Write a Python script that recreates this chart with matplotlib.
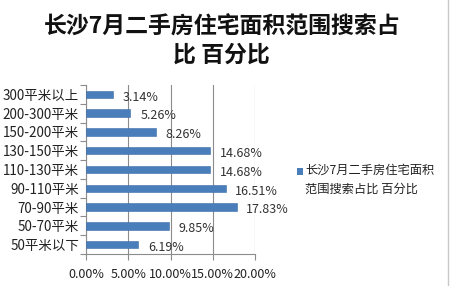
import matplotlib
matplotlib.use("Agg")
import matplotlib.pyplot as plt
from matplotlib.patches import Rectangle

plt.rcParams['font.family'] = ['Noto Sans CJK SC', 'DejaVu Sans']

categories = ["50平米以下", "50-70平米", "70-90平米", "90-110平米", "110-130平米",
              "130-150平米", "150-200平米", "200-300平米", "300平米以上"]
values = [6.19, 9.85, 17.83, 16.51, 14.68, 14.68, 8.26, 5.26, 3.14]
xticks = [0, 5, 10, 15, 20]
title = "长沙7月二手房住宅面积范围搜索占\n比 百分比"
legend_label = "长沙7月二手房住宅面积\n范围搜索占比 百分比"

bar_color = "#4A7EBB"
grid_color = "#8C8C8C"

fig = plt.figure(figsize=(4.5, 2.86), dpi=100)
fig.patch.set_facecolor("white")
ax = fig.add_axes([86/450, 1 - 254/286, (255 - 86)/450, (254 - 85)/286])

ypos = list(range(len(categories)))
ax.barh(ypos, values, height=0.4, color=bar_color, edgecolor="#3C6DA8", linewidth=0.4, zorder=3)

ax.set_xlim(0, 20)
ax.set_ylim(-0.5, len(categories) - 0.5)
ax.set_xticks(xticks)
ax.set_xticklabels([f"{v:.2f}%" for v in xticks], fontsize=9, color="#222222")
ax.set_yticks(ypos)
ax.set_yticklabels(categories, fontsize=9.7, color="#222222")
ax.set_yticks([i - 0.5 for i in range(len(categories) + 1)], minor=True)
ax.tick_params(axis='y', which='major', length=0, pad=5)
ax.tick_params(axis='y', which='minor', length=4, color=grid_color, width=0.8)
ax.tick_params(axis='x', which='major', length=4, color=grid_color, width=0.8, pad=6)

ax.grid(axis='x', color=grid_color, linewidth=0.8, zorder=0)
for s in ['top', 'right']:
    ax.spines[s].set_visible(False)
for s in ['left', 'bottom']:
    ax.spines[s].set_color(grid_color)
    ax.spines[s].set_linewidth(0.8)

for y, v in zip(ypos, values):
    ax.annotate(f"{v:.2f}%", xy=(v, y), xytext=(7, -2), textcoords="offset points",
                ha="left", va="center", fontsize=9, color="#333333", zorder=4)

fig.text(0.493, 1 - 41/286, title, ha="center", va="center", fontsize=16.5,
         fontweight="bold", color="#111111", linespacing=1.3)

# legend
fig.add_artist(Rectangle((297/450, 1 - 175/286), 6/450, 7/286, transform=fig.transFigure,
                         facecolor=bar_color, edgecolor="none"))
fig.text(305/450, 1 - 180/286, legend_label, ha="left", va="center", fontsize=8.8,
         color="#222222", linespacing=1.55)

# right border line
fig.add_artist(plt.Line2D([447.5/450, 447.5/450], [0, 1], transform=fig.transFigure,
                          color="#C8C8C8", linewidth=1))

fig.savefig("out.png", dpi=100, facecolor="white")
